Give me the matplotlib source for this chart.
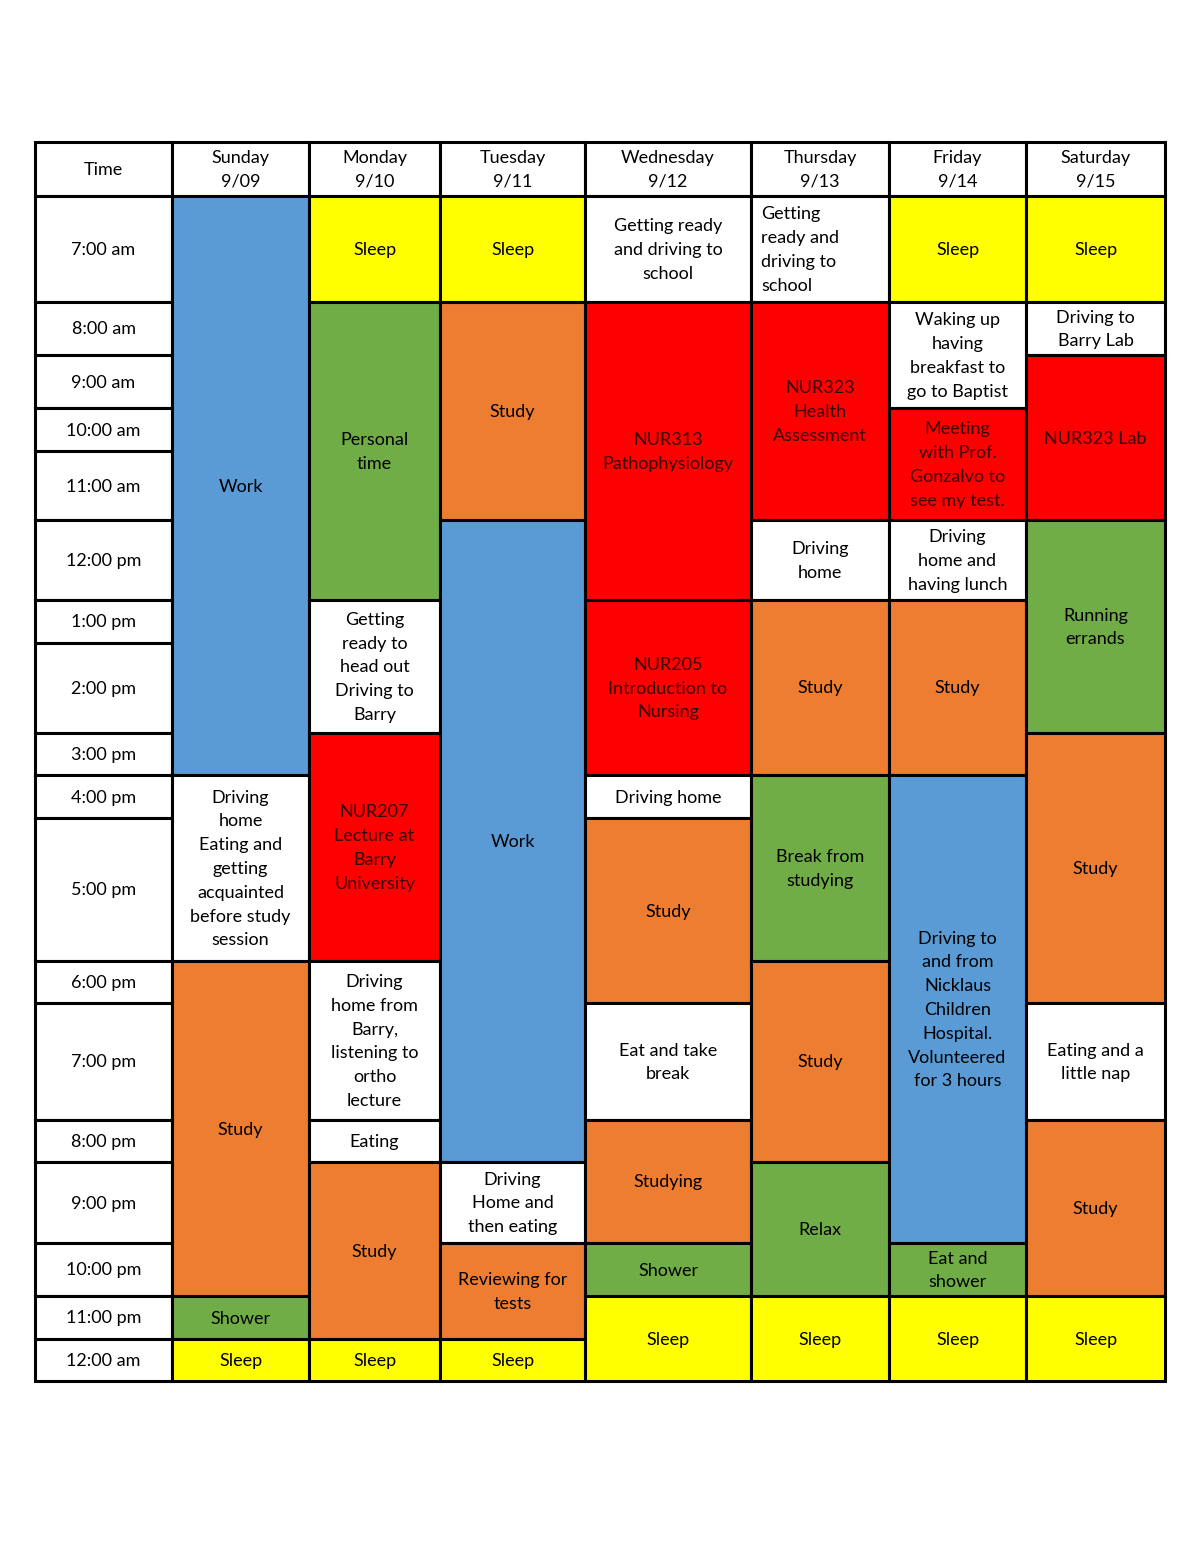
import matplotlib
matplotlib.use("Agg")
import matplotlib.pyplot as plt
from matplotlib.patches import Rectangle

plt.rcParams['font.family'] = 'Lato'

# table data
days = ['Sunday\n9/09', 'Monday\n9/10', 'Tuesday\n9/11', 'Wednesday\n9/12',
        'Thursday\n9/13', 'Friday\n9/14', 'Saturday\n9/15']
times = ['7:00 am', '8:00 am', '9:00 am', '10:00 am', '11:00 am', '12:00 pm',
         '1:00 pm', '2:00 pm', '3:00 pm', '4:00 pm', '5:00 pm', '6:00 pm',
         '7:00 pm', '8:00 pm', '9:00 pm', '10:00 pm', '11:00 pm', '12:00 am']

# events per day: (start slot, end slot exclusive, label, kind)
sunday = [(0, 9, 'Work', 'work'),
          (9, 11, 'Driving\nhome\nEating and\ngetting\nacquainted\nbefore study\nsession', 'free'),
          (11, 16, 'Study', 'study'), (16, 17, 'Shower', 'rest'), (17, 18, 'Sleep', 'sleep')]
monday = [(0, 1, 'Sleep', 'sleep'), (1, 6, 'Personal\ntime', 'rest'),
          (6, 8, 'Getting\nready to\nhead out\nDriving to\nBarry', 'free'),
          (8, 11, 'NUR207\nLecture at\nBarry\nUniversity', 'class'),
          (11, 13, 'Driving\nhome from\nBarry,\nlistening to\northo\nlecture', 'free'),
          (13, 14, 'Eating', 'free'), (14, 17, 'Study', 'study'), (17, 18, 'Sleep', 'sleep')]
tuesday = [(0, 1, 'Sleep', 'sleep'), (1, 5, 'Study', 'study'), (5, 14, 'Work', 'work'),
           (14, 15, 'Driving\nHome and\nthen eating', 'free'),
           (15, 17, 'Reviewing for\ntests', 'study'), (17, 18, 'Sleep', 'sleep')]
wednesday = [(0, 1, 'Getting ready\nand driving to\nschool', 'free'),
             (1, 6, 'NUR313\nPathophysiology', 'class'),
             (6, 9, 'NUR205\nIntroduction to\nNursing', 'class'),
             (9, 10, 'Driving home', 'free'), (10, 12, 'Study', 'study'),
             (12, 13, 'Eat and take\nbreak', 'free'), (13, 15, 'Studying', 'study'),
             (15, 16, 'Shower', 'rest'), (16, 18, 'Sleep', 'sleep')]
thursday = [(0, 1, 'Getting\nready and\ndriving to\nschool', 'free_left'),
            (1, 5, 'NUR323\nHealth\nAssessment', 'class'),
            (5, 6, 'Driving\nhome', 'free'), (6, 9, 'Study', 'study'),
            (9, 11, 'Break from\nstudying', 'rest'), (11, 14, 'Study', 'study'),
            (14, 16, 'Relax', 'rest'), (16, 18, 'Sleep', 'sleep')]
friday = [(0, 1, 'Sleep', 'sleep'),
          (1, 3, 'Waking up\nhaving\nbreakfast to\ngo to Baptist', 'free'),
          (3, 5, 'Meeting\nwith Prof.\nGonzalvo to\nsee my test.', 'class'),
          (5, 6, 'Driving\nhome and\nhaving lunch', 'free'), (6, 9, 'Study', 'study'),
          (9, 15, 'Driving to\nand from\nNicklaus\nChildren\nHospital.\nVolunteered\nfor 3 hours', 'work'),
          (15, 16, 'Eat and\nshower', 'rest'), (16, 18, 'Sleep', 'sleep')]
saturday = [(0, 1, 'Sleep', 'sleep'), (1, 2, 'Driving to\nBarry Lab', 'free'),
            (2, 5, 'NUR323 Lab', 'class'), (5, 8, 'Running\nerrands', 'rest'),
            (8, 12, 'Study', 'study'), (12, 13, 'Eating and a\nlittle nap', 'free'),
            (13, 16, 'Study', 'study'), (16, 18, 'Sleep', 'sleep')]
schedule = [sunday, monday, tuesday, wednesday, thursday, friday, saturday]

# layout (pixels)
col_x = [35, 172, 309, 440, 585, 751, 889, 1026, 1165]
row_y = [142, 196, 302, 355, 408, 451, 520, 600, 643, 733, 775, 818, 961, 1003,
         1120, 1162, 1243, 1296, 1339, 1381]
colors = {'work': '#5B9BD5', 'sleep': '#FFFF00', 'study': '#ED7D31',
          'rest': '#70AD47', 'class': '#FF0000', 'free': 'white', 'free_left': 'white'}

fig = plt.figure(figsize=(12, 15.53), dpi=100)
ax = fig.add_axes([0, 0, 1, 1])
ax.set_xlim(0, 1200)
ax.set_ylim(1553, 0)
ax.axis('off')
lw = 2.2
fs = 13

def cell(x0, x1, y0, y1, color, text, tcolor='black', ha='center'):
    ax.add_patch(Rectangle((x0, y0), x1 - x0, y1 - y0, facecolor=color,
                           edgecolor='black', linewidth=lw))
    tx = (x0 + x1) / 2 if ha == 'center' else x0 + 10
    ax.text(tx, (y0 + y1) / 2 + 1, text, ha=ha, va='center', fontsize=fs,
            color=tcolor, linespacing=1.6)

cell(col_x[0], col_x[1], row_y[0], row_y[1], 'white', 'Time')
for i, d in enumerate(days):
    cell(col_x[i + 1], col_x[i + 2], row_y[0], row_y[1], 'white', d)
for j, t in enumerate(times):
    cell(col_x[0], col_x[1], row_y[j + 1], row_y[j + 2], 'white', t)
for i, events in enumerate(schedule):
    for s, e, label, kind in events:
        tcol = '#3A0000' if kind == 'class' else 'black'
        cell(col_x[i + 1], col_x[i + 2], row_y[s + 1], row_y[e + 1], colors[kind],
             label, tcol, 'left' if kind == 'free_left' else 'center')

fig.savefig('out.png', dpi=100)
